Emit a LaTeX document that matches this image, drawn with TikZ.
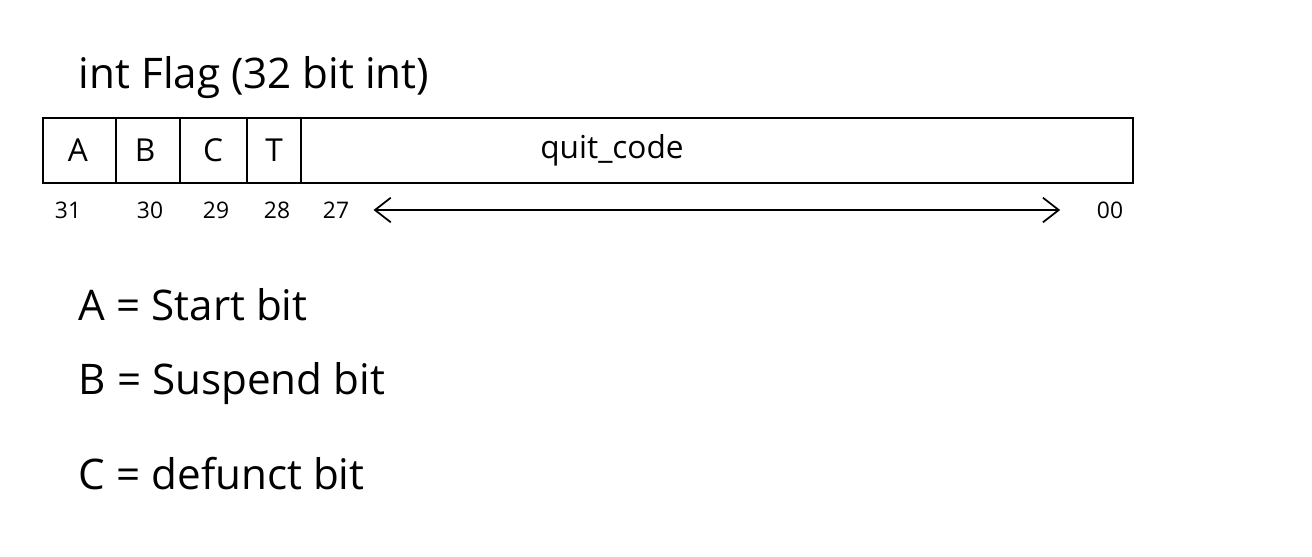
\documentclass[tikz,border=0pt]{standalone}
\usepackage{fontspec}
\setmainfont{Open Sans}
\usetikzlibrary{arrows.meta}
\begin{document}
\begin{tikzpicture}[x=.02cm, y=-.02cm, line width=1.2pt]
    \useasboundingbox (0,0) rectangle (1312,556);
    \tikzset{cell/.style={font=\fontsize{18}{20}\selectfont},
             bitno/.style={font=\fontsize{13}{15}\selectfont},
             legend/.style={anchor=west, font=\fontsize{24}{28}\selectfont}}

    \node[anchor=west, font=\fontsize{24}{28}\selectfont] (title) at (72,78) {int Flag (32 bit int)};

    \draw (43,118) rectangle (1133,183);
    \foreach \x in {116,180,247,301}
    \draw (\x,118) -- (\x,183);

    \node[cell] (a) at (78,150) {A};
    \node[cell] (b) at (145,150) {B};
    \node[cell] (c) at (213,150) {C};
    \node[cell] (t) at (274,150) {T};
    \node[cell] (quit) at (612,150) {quit\_code};

    \foreach \n/\x in {31/68,30/150,29/216,28/277,27/336}
    \node[bitno] (n\n) at (\x,210) {\n};
    \node[bitno] (n00) at (1110,210) {00};
    \draw[{Straight Barb[length=9pt,width=14pt]}-{Straight Barb[length=9pt,width=14pt]}, line width=1pt]
      ([xshift=10pt]n27.east) -- ([xshift=-17pt]n00.west);

    \node[legend] (la) at (72,305) {A = Start bit};
    \node[legend] (lb) at (72,384) {B = Suspend bit};
    \node[legend] (lc) at (72,474) {C = defunct bit};
  \end{tikzpicture}
\end{document}
